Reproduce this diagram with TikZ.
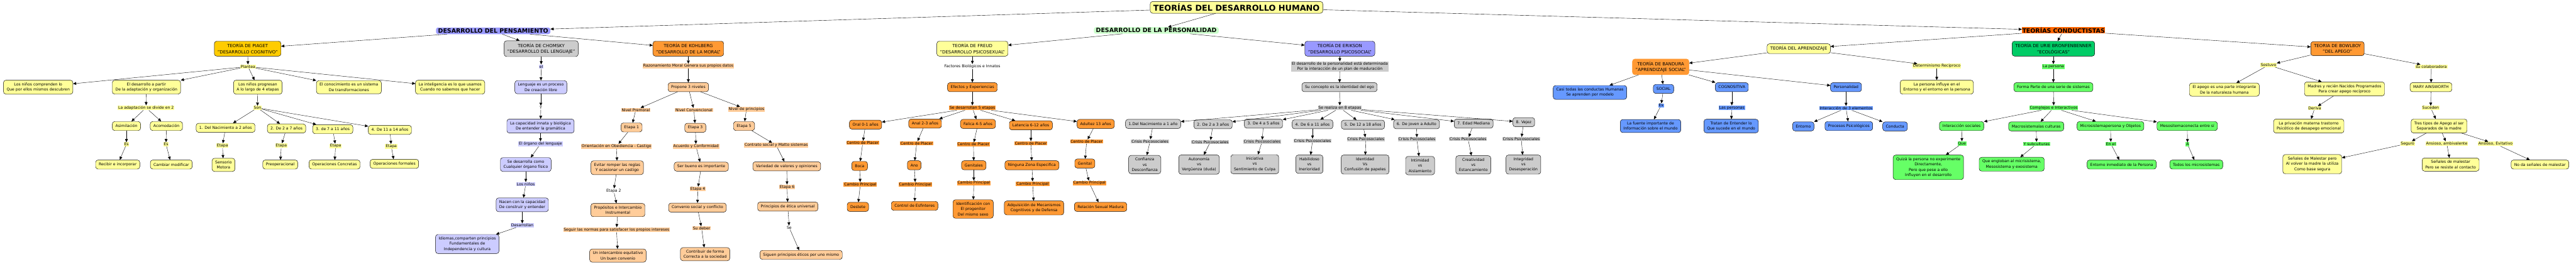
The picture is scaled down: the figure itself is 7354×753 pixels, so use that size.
\documentclass[tikz,border=0pt]{standalone}
\usepackage{fontspec}
\setmainfont{DejaVu Sans}
\usetikzlibrary{arrows.meta}

% Colours of the map
\definecolor{cyellow}{HTML}{FFFF99}
\definecolor{cgold}{HTML}{FFCC00}
\definecolor{clilac}{HTML}{CCCCFF}
\definecolor{cviolet}{HTML}{9999FF}
\definecolor{cgrey}{HTML}{CCCCCC}
\definecolor{cpeach}{HTML}{FFCC99}
\definecolor{corange}{HTML}{FF9933}
\definecolor{cblue}{HTML}{6699FF}
\definecolor{cgreen}{HTML}{66FF66}
\definecolor{cdgreen}{HTML}{00CC66}
\definecolor{cmint}{HTML}{CCFFCC}
\definecolor{cred}{HTML}{FF6600}

\newcommand{\mapfont}{\fontsize{11}{15}\selectfont}
\newcommand{\theofont}{\fontsize{12.5}{17}\selectfont}
\newcommand{\headfont}{\fontsize{17}{20}\selectfont\bfseries}
\newcommand{\topfont}{\fontsize{23}{26}\selectfont\bfseries}

\begin{document}
\begin{tikzpicture}[x=1pt, y=-1pt,
  box/.style={draw, line width=0.8pt, rounded corners=7pt, align=center,
    inner xsep=9pt, inner ysep=7pt, minimum height=26pt, font=\mapfont},
  theo/.style={box, font=\theofont, inner ysep=7pt},
  lbl/.style={inner sep=1.5pt, align=center, font=\mapfont},
  head/.style={inner xsep=6pt, inner ysep=3pt, font=\headfont},
  arr/.style={-{Triangle[length=9pt,width=8pt]}, line width=0.7pt}]

% Page size
\useasboundingbox (0,0) rectangle (7354,753);

% Main title and the three groups
\node[box, fill=cyellow, font=\topfont, inner ysep=6pt] (T) at (3530,21) {TEORÍAS DEL DESARROLLO HUMANO};
\node[head, fill=cviolet, rounded corners=6pt] (PEN) at (1408,88) {DESARROLLO DEL PENSAMIENTO};
\node[head, fill=cmint, rounded corners=6pt] (PER) at (3301,87) {DESARROLLO DE LA PERSONALIDAD};
\node[head, fill=cred, inner xsep=1pt, inner ysep=1pt] (CON) at (5891,87) {TEORÍAS CONDUCTISTAS};

% Piaget
\node[theo, fill=cgold] (pia) at (707,139) {TEORÍA DE PIAGET\\"DESARROLLO COGNITIVO"};
\node[lbl, fill=cyellow] (plantea) at (708,190) {Plantea};
\node[box, fill=cyellow] (pc1) at (109,249) {Los niños comprenden lo\\Que por ellos mismos descubren};
\node[box, fill=cyellow] (pc2) at (418,249) {El desarrollo a partir\\De la adaptación y organización};
\node[box, fill=cyellow] (pc3) at (736,249) {Los niños progresan\\A lo largo de 4 etapas};
\node[box, fill=cyellow] (pc4) at (996,249) {El conocimiento es un sistema\\De transformaciones};
\node[box, fill=cyellow] (pc5) at (1285,249) {La inteligencia es lo que usamos\\Cuando no sabemos que hacer};
\node[lbl, fill=cyellow] (padapt) at (417,308) {La adaptación se divide en 2};
\node[box, fill=cyellow] (pasim) at (361,360) {Asimilación};
\node[box, fill=cyellow] (pacom) at (475,360) {Acomodación};
\node[lbl, fill=cyellow] (pes1) at (361,412) {Es};
\node[lbl, fill=cyellow] (pes2) at (474,412) {Es};
\node[box, fill=cyellow] (prec) at (336,470) {Recibir e incorporar};
\node[box, fill=cyellow] (pcamb) at (489,470) {Cambiar modificar};
\node[lbl, fill=cyellow] (pson) at (735,308) {Son};
\node[box, fill=cyellow] (ps1) at (644,365) {1. Del Nacimiento a 2 años};
\node[box, fill=cyellow] (ps2) at (818,367) {2. De 2 a 7 años};
\node[box, fill=cyellow] (ps3) at (950,369) {3. de 7 a 11 años};
\node[box, fill=cyellow] (ps4) at (1113,371) {4. De 11 a 14 años};
\node[lbl, fill=cyellow] (pe1) at (635,416) {Etapa};
\node[lbl, fill=cyellow] (pe2) at (803,416) {Etapa};
\node[lbl, fill=cyellow] (pe3) at (958,417) {Etapa};
\node[lbl, fill=cyellow] (pe4) at (1117,418) {Etapa};
\node[box, fill=cyellow] (pr1) at (638,471) {Sensorio\\Motora};
\node[box, fill=cyellow] (pr2) at (800,470) {Preoperacional};
\node[box, fill=cyellow] (pr3) at (955,470) {Operaciones Concretas};
\node[box, fill=cyellow] (pr4) at (1126,468) {Operaciones formales};

% Chomsky
\node[theo, fill=cgrey] (cho) at (1545,139) {TEORÍA DE CHOMSKY\\"DESARROLLO DEL LENGUAJE"};
\node[lbl, fill=clilac] (cel) at (1545,190) {el};
\node[box, fill=clilac] (c1) at (1544,249) {Lenguaje es un proceso\\De creación libre};
\node[lbl] (cy) at (1544,308) {Y};
\node[box, fill=clilac] (c2) at (1543,360) {La capacidad innata y biológica\\De entender la gramática};
\node[lbl, fill=clilac] (corg) at (1543,411) {El órgano del lenguaje};
\node[box, fill=clilac] (c3) at (1501,470) {Se desarrolla como\\Cualquier órgano físico};
\node[lbl, fill=clilac] (cnin) at (1501,526) {Los niños};
\node[box, fill=clilac] (c4) at (1491,585) {Nacen con la capacidad\\De construir y entender};
\node[lbl, fill=clilac] (cdes) at (1491,644) {Desarrollan};
\node[box, fill=clilac] (c5) at (1334,697) {Idiomas,comparten principios\\Fundamentales de\\Independencia y cultura};

% Kohlberg
\node[theo, fill=corange] (koh) at (1965,139) {TEORÍA DE KOHLBERG\\"DESARROLLO DE LA MORAL"};
\node[lbl, fill=cpeach] (kraz) at (1965,189) {Razonamiento Moral Genera sus propios datos};
\node[box, fill=cpeach] (kniv) at (1965,249) {Propone 3 niveles};
\node[lbl, fill=cpeach] (kpre) at (1815,314) {Nivel Premoral};
\node[lbl, fill=cpeach] (kcon) at (1981,314) {Nivel Convencional};
\node[lbl, fill=cpeach] (kpri) at (2131,312) {Nivel de principios};
\node[box, fill=cpeach] (ke1) at (1803,364) {Etapa 1};
\node[lbl, fill=cpeach] (kori) at (1760,418) {Orientación en Obediencia - Castigo};
\node[box, fill=cpeach] (kevi) at (1762,479) {Evitar romper las reglas\\Y ocasionar un castigo};
\node[lbl] (ke2) at (1752,545) {Etapa 2};
\node[box, fill=cpeach] (kpro) at (1764,600) {Propósitos e Intercambio\\Instrumental};
\node[lbl, fill=cpeach] (kseg) at (1760,656) {Seguir las normas para satisfacer los propios intereses};
\node[box, fill=cpeach] (kint) at (1764,730) {Un intercambio equitativo\\Un buen convenio};
\node[box, fill=cpeach] (ke3) at (1985,365) {Etapa 3};
\node[lbl, fill=cpeach] (kacu) at (1987,418) {Acuerdo y Conformidad};
\node[box, fill=cpeach] (kser) at (2002,476) {Ser bueno es importante};
\node[lbl, fill=cpeach] (ke4) at (1992,540) {Etapa 4};
\node[box, fill=cpeach] (kconv) at (1991,593) {Convenio social y conflicto};
\node[lbl, fill=cpeach] (kdeb) at (2003,652) {Su deber};
\node[box, fill=cpeach] (kcontr) at (2013,726) {Contribuir de forma\\Correcta a la sociedad};
\node[box, fill=cpeach] (ke5) at (2124,360) {Etapa 5};
\node[lbl, fill=cpeach] (kcso) at (2216,415) {Contrato social y Matto sistemas};
\node[box, fill=cpeach] (kvar) at (2246,475) {Variedad de valores y opiniones};
\node[lbl, fill=cpeach] (ke6) at (2247,534) {Etapa 6};
\node[box, fill=cpeach] (kpet) at (2249,590) {Principios de ética universal};
\node[lbl] (kse) at (2253,650) {Se};
\node[box, fill=cpeach] (ksig) at (2287,728) {Siguen principios éticos por uno mismo};

% Freud
\node[theo, fill=cyellow] (fre) at (2776,139) {TEORÍA DE FREUD\\"DESARROLLO PSICOSEXUAL"};
\node[lbl] (ffac) at (2776,190) {Factores Biológicos e Innatos};
\node[box, fill=corange] (fefe) at (2776,249) {Efectos y Experiencias};
\node[lbl, fill=corange] (fdes) at (2776,308) {Se desarrollan 5 etapas};
\node[box, fill=corange] (fs1) at (2471,356) {Oral 0-1 años};
\node[box, fill=corange] (fs2) at (2641,353) {Anal 2-3 años};
\node[box, fill=corange] (fs3) at (2792,354) {Falica 4-5 años};
\node[box, fill=corange] (fs4) at (2943,358) {Latencia 6-12 años};
\node[box, fill=corange] (fs5) at (3128,354) {Adultez 13 años};
\node[lbl, fill=corange] (fc1) at (2463,408) {Centro de Placer};
\node[lbl, fill=corange] (fc2) at (2617,409) {Centro de Placer};
\node[lbl, fill=corange] (fc3) at (2779,412) {Centro de Placer};
\node[lbl, fill=corange] (fc4) at (2943,409) {Centro de Placer};
\node[lbl, fill=corange] (fc5) at (3102,404) {Centro de Placer};
\node[box, fill=corange] (fz1) at (2454,474) {Boca};
\node[box, fill=corange] (fz2) at (2610,472) {Ano};
\node[box, fill=corange] (fz3) at (2780,472) {Genitales};
\node[box, fill=corange] (fz4) at (2946,472) {Ninguna Zona Especifica};
\node[box, fill=corange] (fz5) at (3097,467) {Genital};
\node[lbl, fill=corange] (fm1) at (2456,527) {Cambio Principal};
\node[lbl, fill=corange] (fm2) at (2613,527) {Cambio Principal};
\node[lbl, fill=corange] (fm3) at (2780,523) {Cambio Principal};
\node[lbl, fill=corange] (fm4) at (2948,525) {Cambio Principal};
\node[lbl, fill=corange] (fm5) at (3110,523) {Cambio Principal};
\node[box, fill=corange] (fr1) at (2449,591) {Destete};
\node[box, fill=corange] (fr2) at (2611,588) {Control de Esfinteres};
\node[box, fill=corange] (fr3) at (2778,597) {Identificación con\\El progenitor\\Del mismo sexo};
\node[box, fill=corange] (fr4) at (2952,594) {Adquisición de Mecanismos\\Cognitivos y de Defensa};
\node[box, fill=corange] (fr5) at (3142,591) {Relación Sexual Madura};

% Erikson
\node[theo, fill=cviolet] (eri) at (3825,139) {TEORÍA DE ERIKSON\\"DESARROLLO PSICOSOCIAL"};
\node[lbl, fill=cgrey] (edet) at (3825,190) {El desarrollo de la personalidad está determinada\\Por la interacción de un plan de maduración};
\node[box, fill=cgrey] (econ) at (3824,249) {Su concepto es la identidad del ego};
\node[lbl, fill=cgrey] (eoch) at (3825,308) {Se realiza en 8 etapas};
\node[box, fill=cgrey] (es1) at (3292,354) {1.Del Nacimiento a 1 año};
\node[box, fill=cgrey] (es2) at (3463,355) {2. De 2 a 3 años};
\node[box, fill=cgrey] (es3) at (3607,353) {3. De 4 a 5 años};
\node[box, fill=cgrey] (es4) at (3747,355) {4. De 6 a 11 años};
\node[box, fill=cgrey] (es5) at (3891,356) {5. De 12 a 18 años};
\node[box, fill=cgrey] (es6) at (4044,355) {6. De joven a Adulto};
\node[box, fill=cgrey] (es7) at (4207,353) {7. Edad Mediana};
\node[box, fill=cgrey] (es8) at (4350,349) {8. Vejez};
\node[lbl, fill=cgrey] (ec1) at (3283,404) {Crisis Psicosociales};
\node[lbl, fill=cgrey] (ec2) at (3455,406) {Crisis Psicosociales};
\node[lbl, fill=cgrey] (ec3) at (3603,405) {Crisis Psicosociales};
\node[lbl, fill=cgrey] (ec4) at (3747,402) {Crisis Psicosociales};
\node[lbl, fill=cgrey] (ec5) at (3899,398) {Crisis Psicosociales};
\node[lbl, fill=cgrey] (ec6) at (4045,398) {Crisis Psicosociales};
\node[lbl, fill=cgrey] (ec7) at (4191,397) {Crisis Psicosociales};
\node[lbl, fill=cgrey] (ec8) at (4343,397) {Crisis Psicosociales};
\node[box, fill=cgrey] (er1) at (3268,470) {Confianza\\vs\\Desconfianza};
\node[box, fill=cgrey] (er2) at (3423,470) {Autonomía\\vs\\Vergüenza (duda)};
\node[box, fill=cgrey] (er3) at (3582,469) {Iniciativa\\vs\\Sentimiento de Culpa};
\node[box, fill=cgrey] (er4) at (3738,469) {Habilidoso\\vs\\Inerioridad};
\node[box, fill=cgrey] (er5) at (3897,470) {Identidad\\Vs\\Confusión de papeles};
\node[box, fill=cgrey] (er6) at (4054,473) {Intimidad\\vs\\Aislamiento};
\node[box, fill=cgrey] (er7) at (4206,471) {Creatividad\\vs\\Estancamiento};
\node[box, fill=cgrey] (er8) at (4349,470) {Integridad\\vs\\Desesperación};

% Bandura
\node[theo, fill=corange, draw=corange] (ban) at (4741,191) {TEORÍA DE BANDURA\\"APRENDIZAJE SOCIAL"};
\node[box, fill=cblue] (bcas) at (4539,264) {Casi todas las conductas Humanas\\Se aprenden por modelo};
\node[box, fill=cblue] (bsoc) at (4749,254) {SOCIAL};
\node[lbl, fill=cblue] (bes) at (4742,301) {Es};
\node[box, fill=cblue] (bfue) at (4712,360) {La fuente importante de\\Información sobre el mundo};
\node[box, fill=cblue] (bcog) at (4944,249) {COGNOSITIVA};
\node[lbl, fill=cblue] (bper) at (4944,308) {Las personas};
\node[box, fill=cblue] (btra) at (4942,360) {Tratan de Entender lo\\Que sucede en el mundo};
\node[box, fill=cblue] (bpers) at (5270,249) {Personalidad};
\node[lbl, fill=cblue] (bint) at (5270,309) {Interacción de 3 elementos};
\node[box, fill=cblue] (bent) at (5148,361) {Entorno};
\node[box, fill=cblue] (bpro) at (5278,360) {Procesos Psicológicos};
\node[box, fill=cblue] (bcond) at (5410,361) {Conducta};

% Aprendizaje
\node[theo, fill=cyellow] (apr) at (5135,139) {TEORÍA DEL APRENDIZAJE};
\node[lbl, fill=cyellow] (adet) at (5529,189) {Determinismo Reciproco};
\node[box, fill=cyellow] (apers) at (5529,249) {La persona influye en el\\Entorno y el entorno en la persona};

% Bronfenbenner
\node[theo, fill=cdgreen] (bro) at (5862,139) {TEORÍA DE URIE BRONFENBENNER\\"ECOLÓGICAS"};
\node[lbl, fill=cgreen] (gper) at (5862,190) {La persona};
\node[box, fill=cgreen] (gfor) at (5862,249) {Forma Parte de una serie de sistemas};
\node[lbl, fill=cgreen] (gcom) at (5863,308) {Complejos e Interactivos};
\node[box, fill=cgreen] (g1) at (5600,360) {Interacción sociales};
\node[box, fill=cgreen] (g2) at (5813,361) {Macrosistemalas culturas};
\node[box, fill=cgreen] (g3) at (6025,360) {Microsistemapersona y Objetos};
\node[box, fill=cgreen] (g4) at (6244,360) {Mesositemaconecta entre sí};
\node[lbl, fill=cgreen] (gque) at (5601,410) {Que};
\node[lbl, fill=cgreen] (gsub) at (5814,411) {Y subculturas};
\node[lbl, fill=cgreen] (genel) at (6026,411) {En el};
\node[lbl, fill=cgreen] (ga) at (6245,412) {A};
\node[box, fill=cgreen] (gqui) at (5505,478) {Quizá la persona no experimente\\Directamente,\\Pero que pese a ello\\Influyen en el desarrollo};
\node[box, fill=cgreen] (geng) at (5743,469) {Que engloban al micrisistema,\\Mesosistema y exosistema};
\node[box, fill=cgreen] (gent) at (6057,470) {Entorno inmediato de la Persona};
\node[box, fill=cgreen] (gtod) at (6270,470) {Todos los microsistemas};

% Bowlby
\node[theo, fill=corange] (bow) at (6673,139) {TEORIA DE BOWLBOY\\"DEL APEGO"};
\node[lbl, fill=cyellow] (wsos) at (6476,186) {Sostuvo};
\node[box, fill=cyellow] (wape) at (6350,256) {El apego es una parte integrante\\De la naturaleza humana};
\node[box, fill=cyellow] (wmad) at (6693,254) {Madres y recién Nacidos Programados\\Para crear apego recíproco};
\node[lbl, fill=cyellow] (wder) at (6608,309) {Deriva};
\node[box, fill=cyellow] (wpri) at (6591,360) {La privación materna trastorno\\Psicótico de desapego emocional};
\node[lbl, fill=cyellow] (wcol) at (6941,190) {su colaboradora};
\node[box, fill=cyellow] (wmar) at (6940,249) {MARY AINSWORTH};
\node[lbl, fill=cyellow] (wsuc) at (6939,308) {Suceden};
\node[box, fill=cyellow] (wtre) at (6963,360) {Tres tipos de Apego al ser\\Separados de la madre};
\node[lbl, fill=cyellow] (wseg) at (6873,410) {Seguro};
\node[lbl, fill=cyellow] (wamb) at (6985,410) {Ansioso, ambivalente};
\node[lbl, fill=cyellow] (wevi) at (7124,411) {Ansioso, Evitativo};
\node[box, fill=cyellow] (wsen) at (6601,469) {Señales de Malestar pero\\Al volver la madre la utiliza\\Como base segura};
\node[box, fill=cyellow] (wres) at (6996,470) {Señales de malestar\\Pero se resiste al contacto};
\node[box, fill=cyellow] (wno) at (7251,470) {No da señales de malestar};

% Links from the title
\draw[arr] (T) -- (PEN);
\draw[arr] (T) -- (PER);
\draw[arr] (T) -- (CON);
\draw[arr] (PEN) -- (pia);
\draw[arr] (PEN) -- (cho);
\draw[arr] (PEN) -- (koh);
\draw[arr] (PER) -- (fre);
\draw[arr] (PER) -- (eri);
\draw[arr] (CON) -- (apr);
\draw[arr] (CON) -- (bro);
\draw[arr] (CON) -- (bow);

% Links Piaget
\draw[arr] (pia) -- (plantea);
\draw[arr] (plantea) -- (pc1);
\draw[arr] (plantea) -- (pc2);
\draw[arr] (plantea) -- (pc3);
\draw[arr] (plantea) -- (pc4);
\draw[arr] (plantea) -- (pc5);
\draw[arr] (pc2) -- (padapt);
\draw[arr] (padapt) -- (pasim);
\draw[arr] (padapt) -- (pacom);
\draw[arr] (pasim) -- (pes1);
\draw[arr] (pacom) -- (pes2);
\draw[arr] (pes1) -- (prec);
\draw[arr] (pes2) -- (pcamb);
\draw[arr] (pc3) -- (pson);
\draw[arr] (pson) -- (ps1);
\draw[arr] (pson) -- (ps2);
\draw[arr] (pson) -- (ps3);
\draw[arr] (pson) -- (ps4);
\draw[arr] (ps1) -- (pe1);
\draw[arr] (ps2) -- (pe2);
\draw[arr] (ps3) -- (pe3);
\draw[arr] (ps4) -- (pe4);
\draw[arr] (pe1) -- (pr1);
\draw[arr] (pe2) -- (pr2);
\draw[arr] (pe3) -- (pr3);
\draw[arr] (pe4) -- (pr4);

% Links Chomsky
\draw[arr] (cho) -- (cel);
\draw[arr] (cel) -- (c1);
\draw[arr] (c1) -- (cy);
\draw[arr] (cy) -- (c2);
\draw[arr] (c2) -- (corg);
\draw[arr] (corg) -- (c3);
\draw[arr] (c3) -- (cnin);
\draw[arr] (cnin) -- (c4);
\draw[arr] (c4) -- (cdes);
\draw[arr] (cdes) -- (c5);

% Links Kohlberg
\draw[arr] (koh) -- (kraz);
\draw[arr] (kraz) -- (kniv);
\draw[arr] (kniv) -- (kpre);
\draw[arr] (kniv) -- (kcon);
\draw[arr] (kniv) -- (kpri);
\draw[arr] (kpre) -- (ke1);
\draw[arr] (ke1) -- (kori);
\draw[arr] (kori) -- (kevi);
\draw[arr] (kevi) -- (ke2);
\draw[arr] (ke2) -- (kpro);
\draw[arr] (kpro) -- (kseg);
\draw[arr] (kseg) -- (kint);
\draw[arr] (kcon) -- (ke3);
\draw[arr] (ke3) -- (kacu);
\draw[arr] (kacu) -- (kser);
\draw[arr] (kser) -- (ke4);
\draw[arr] (ke4) -- (kconv);
\draw[arr] (kconv) -- (kdeb);
\draw[arr] (kdeb) -- (kcontr);
\draw[arr] (kpri) -- (ke5);
\draw[arr] (ke5) -- (kcso);
\draw[arr] (kcso) -- (kvar);
\draw[arr] (kvar) -- (ke6);
\draw[arr] (ke6) -- (kpet);
\draw[arr] (kpet) -- (kse);
\draw[arr] (kse) -- (ksig);

% Links Freud
\draw[arr] (fre) -- (ffac);
\draw[arr] (ffac) -- (fefe);
\draw[arr] (fefe) -- (fdes);
\draw[arr] (fdes) -- (fs1);
\draw[arr] (fdes) -- (fs2);
\draw[arr] (fdes) -- (fs3);
\draw[arr] (fdes) -- (fs4);
\draw[arr] (fdes) -- (fs5);
\draw[arr] (fs1) -- (fc1);
\draw[arr] (fs2) -- (fc2);
\draw[arr] (fs3) -- (fc3);
\draw[arr] (fs4) -- (fc4);
\draw[arr] (fs5) -- (fc5);
\draw[arr] (fc1) -- (fz1);
\draw[arr] (fc2) -- (fz2);
\draw[arr] (fc3) -- (fz3);
\draw[arr] (fc4) -- (fz4);
\draw[arr] (fc5) -- (fz5);
\draw[arr] (fz1) -- (fm1);
\draw[arr] (fz2) -- (fm2);
\draw[arr] (fz3) -- (fm3);
\draw[arr] (fz4) -- (fm4);
\draw[arr] (fz5) -- (fm5);
\draw[arr] (fm1) -- (fr1);
\draw[arr] (fm2) -- (fr2);
\draw[arr] (fm3) -- (fr3);
\draw[arr] (fm4) -- (fr4);
\draw[arr] (fm5) -- (fr5);

% Links Erikson
\draw[arr] (eri) -- (edet);
\draw[arr] (edet) -- (econ);
\draw[arr] (econ) -- (eoch);
\draw[arr] (eoch) -- (es1);
\draw[arr] (eoch) -- (es2);
\draw[arr] (eoch) -- (es3);
\draw[arr] (eoch) -- (es4);
\draw[arr] (eoch) -- (es5);
\draw[arr] (eoch) -- (es6);
\draw[arr] (eoch) -- (es7);
\draw[arr] (eoch) -- (es8);
\draw[arr] (es1) -- (ec1);
\draw[arr] (es2) -- (ec2);
\draw[arr] (es3) -- (ec3);
\draw[arr] (es4) -- (ec4);
\draw[arr] (es5) -- (ec5);
\draw[arr] (es6) -- (ec6);
\draw[arr] (es7) -- (ec7);
\draw[arr] (es8) -- (ec8);
\draw[arr] (ec1) -- (er1);
\draw[arr] (ec2) -- (er2);
\draw[arr] (ec3) -- (er3);
\draw[arr] (ec4) -- (er4);
\draw[arr] (ec5) -- (er5);
\draw[arr] (ec6) -- (er6);
\draw[arr] (ec7) -- (er7);
\draw[arr] (ec8) -- (er8);

% Links Bandura and Aprendizaje
\draw[arr] (apr) -- (ban);
\draw[arr] (apr) -- (adet);
\draw[arr] (adet) -- (apers);
\draw[arr] (ban) -- (bcas);
\draw[arr] (ban) -- (bsoc);
\draw[arr] (ban) -- (bcog);
\draw[arr] (ban) -- (bpers);
\draw[arr] (bsoc) -- (bes);
\draw[arr] (bes) -- (bfue);
\draw[arr] (bcog) -- (bper);
\draw[arr] (bper) -- (btra);
\draw[arr] (bpers) -- (bint);
\draw[arr] (bint) -- (bent);
\draw[arr] (bint) -- (bpro);
\draw[arr] (bint) -- (bcond);

% Links Bronfenbenner
\draw[arr] (bro) -- (gper);
\draw[arr] (gper) -- (gfor);
\draw[arr] (gfor) -- (gcom);
\draw[arr] (gcom) -- (g1);
\draw[arr] (gcom) -- (g2);
\draw[arr] (gcom) -- (g3);
\draw[arr] (gcom) -- (g4);
\draw[arr] (g1) -- (gque);
\draw[arr] (g2) -- (gsub);
\draw[arr] (g3) -- (genel);
\draw[arr] (g4) -- (ga);
\draw[arr] (gque) -- (gqui);
\draw[arr] (gsub) -- (geng);
\draw[arr] (genel) -- (gent);
\draw[arr] (ga) -- (gtod);

% Links Bowlby
\draw[arr] (bow) -- (wsos);
\draw[arr] (wsos) -- (wape);
\draw[arr] (wsos) -- (wmad);
\draw[arr] (wmad) -- (wder);
\draw[arr] (wder) -- (wpri);
\draw[arr] (bow) -- (wcol);
\draw[arr] (wcol) -- (wmar);
\draw[arr] (wmar) -- (wsuc);
\draw[arr] (wsuc) -- (wtre);
\draw[arr] (wtre) -- (wseg);
\draw[arr] (wtre) -- (wamb);
\draw[arr] (wtre) -- (wevi);
\draw[arr] (wseg) -- (wsen);
\draw[arr] (wamb) -- (wres);
\draw[arr] (wevi) -- (wno);

\end{tikzpicture}
\end{document}
